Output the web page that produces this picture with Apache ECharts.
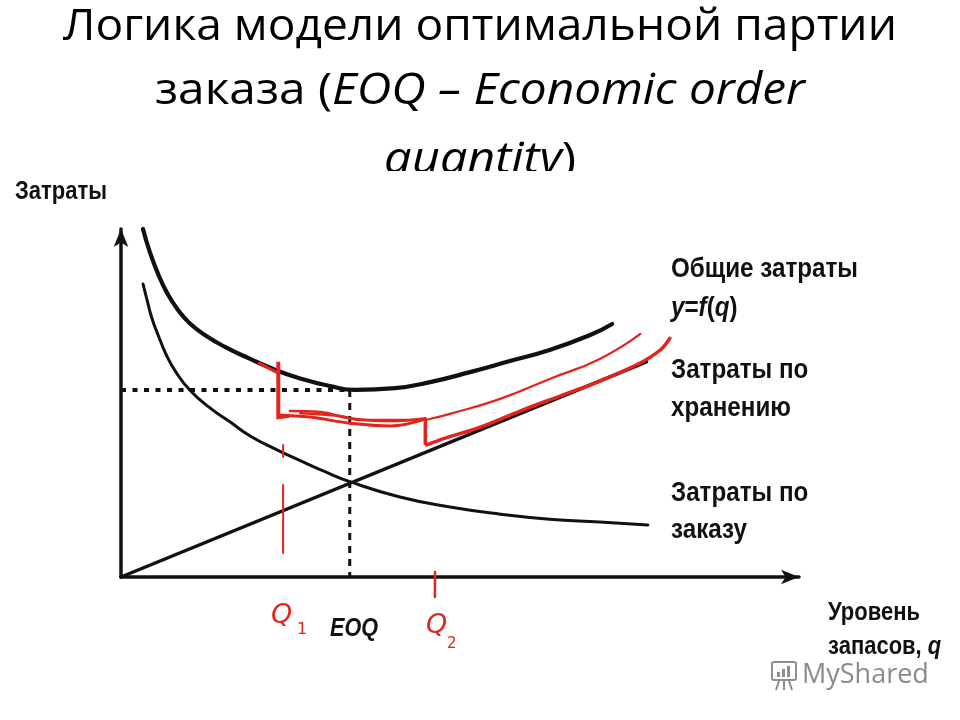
<!DOCTYPE html>
<html>
<head>
<meta charset="utf-8">
<script src="https://cdn.jsdelivr.net/npm/echarts@6/dist/echarts.min.js"></script>
<style>
html,body{margin:0;padding:0;background:#fff;}
#chart{width:960px;height:720px;}
</style>
</head>
<body>
<div id="chart"></div>
<script>
// ---- data (arbitrary cost / quantity units) ----
const totalCost = [[3.2,97.5],[4.2,91.0],[5.4,84.9],[6.7,79.6],[8.3,74.8],[10.0,71.1],[12.2,67.8],[15.2,64.4],[18.8,61.1],[22.4,58.1],[26.1,55.6],[30.4,53.5],[34.1,52.4],[39.9,52.9],[45.0,54.6],[50.8,57.4],[56.6,60.5],[62.4,63.6],[68.3,67.8],[71.5,70.9]];
const orderCost = [[3.2,82.1],[3.8,77.6],[4.5,72.5],[5.4,67.8],[6.6,62.2],[7.9,57.7],[10.0,52.4],[13.0,47.3],[15.9,43.4],[18.8,39.5],[22.4,35.9],[26.1,32.6],[29.7,29.5],[33.3,26.7],[40.6,22.4],[47.9,19.6],[55.2,17.6],[62.4,16.2],[69.7,15.4],[76.7,14.6]];
const holdingCost = [[0,0],[76.5,60.3]];
const eoqLevelLine = [[0,52.4],[33.3,52.4]];
const eoqDropLine = [[33.3,52.4],[33.3,0]];
// red hand-drawn annotations
const q1Touch = [[20.1,59.9],[22.9,57.1]];
const q1Upper = [[22.9,60.3],[22.9,44.8],[24.5,45.2]];
const scribbleA = [[22.9,45.4],[27.5,44.8],[33.3,43.1],[39.2,42.3],[44.3,44.3]];
const scribbleB = [[24.6,46.5],[29.0,46.2],[33.3,44.5],[39.2,43.7],[44.3,44.5]];
const scribbleC = [[26.1,45.9],[31.9,45.1],[34.8,44.0],[40.6,44.0],[44.3,44.0]];
const q2Drop = [[44.3,44.5],[44.3,37.0]];
const upperRed = [[44.3,44.0],[47.9,45.7],[55.2,49.9],[62.4,55.5],[69.7,61.1],[75.6,68.1]];
const lowerRed = [[44.5,37.0],[47.2,38.9],[52.3,42.0],[58.1,46.5],[63.9,50.7],[69.7,54.9],[75.5,59.9],[78.5,63.6],[79.9,66.9]];
const q1DashA = [[23.6,37.0],[23.6,33.6]];
const q1DashB = [[23.6,25.8],[23.6,6.7]];
const q2Tick = [[45.7,1.4],[45.7,-5.6]];

// ---- text ----
const titleLine1 = 'Логика модели оптимальной партии';
const titleLine2a = 'заказа (';
const titleLine2b = 'EOQ – Economic order';
const titleLine3a = 'quantity';
const titleLine3b = ')';
const yAxisName = 'Затраты';
const totalLabel = 'Общие затраты';
const holdLabel1 = 'Затраты по', holdLabel2 = 'хранению';
const orderLabel1 = 'Затраты по', orderLabel2 = 'заказу';
const xAxisName1 = 'Уровень';
const xAxisName2 = 'запасов, ';
const eoqLabel = 'EOQ';

const BLACK = '#111111';
const RED = '#e3231d';
const LBL = "'Liberation Sans',Arial,sans-serif";
const TTL = "'Open Sans',Lato,sans-serif";
const TFS = 43;

const mctx = document.createElement('canvas').getContext('2d');
function w(text, font) { mctx.font = font; return mctx.measureText(text).width; }

const tN = TFS + 'px ' + TTL, tI = 'italic ' + TFS + 'px ' + TTL;
const sx1 = 834 / w(titleLine1, tN);
const sx2 = 650 / (w(titleLine2a, tN) + w(titleLine2b, tI));
const sx3 = 192 / (w(titleLine3a, tI) + w(titleLine3b, tN));
const lN = 'bold 27px ' + LBL, lI = 'italic bold 27px ' + LBL;
const sxL = 187 / w(totalLabel, lN);
const sxY = 92 / w(yAxisName, 'bold 26px ' + LBL);
const sxE = 48 / w(eoqLabel, 'italic bold 25px ' + LBL);
const sxX = 92 / w(xAxisName1, 'bold 26px ' + LBL);

function line(data, color, width, extra) {
  return Object.assign({
    type: 'line', data: data, symbol: 'none', silent: true, clip: false,
    lineStyle: Object.assign({color: color, width: width, cap: 'round', join: 'round'}, (extra && extra.ls) || {})
  }, (extra && extra.s) || {});
}

function txt(x, y, text, font, fill, align, sx) {
  return {
    type: 'text', x: x, y: y, z: 100, scaleX: sx || 1,
    style: {text: text, font: font, fill: fill, align: align || 'left', textAlign: align || 'left',
            verticalAlign: 'middle', textVerticalAlign: 'middle'}
  };
}
function rich(x, y, text, richStyles, align, sx) {
  return {
    type: 'text', x: x, y: y, z: 100, scaleX: sx || 1,
    style: {text: text, rich: richStyles, align: align || 'left', textAlign: align || 'left',
            verticalAlign: 'middle', textVerticalAlign: 'middle'}
  };
}

const chart = echarts.init(document.getElementById('chart'), null, {renderer: 'canvas'});

const axisCommon = {
  type: 'value', min: 0,
  axisTick: {show: false}, axisLabel: {show: false}, splitLine: {show: false},
  axisLine: {show: true, onZero: false, symbol: ['none', 'arrow'], symbolSize: [11, 18],
             lineStyle: {color: BLACK, width: 3.5}}
};

const titleRich = {n: {font: tN, fill: '#000'}, i: {font: tI, fill: '#000'}};
const lblRich = {n: {font: lN, fill: BLACK}, i: {font: lI, fill: BLACK}};
const xRich = {n: {font: 'bold 26px ' + LBL, fill: BLACK}, i: {font: 'italic bold 26px ' + LBL, fill: BLACK}};

const option = {
  animation: false,
  backgroundColor: '#ffffff',
  grid: {left: 121, top: 229, width: 678, height: 348, containLabel: false},
  xAxis: Object.assign({}, axisCommon, {max: 98.7}),
  yAxis: Object.assign({}, axisCommon, {max: 97.5}),
  series: [
    line(totalCost, BLACK, 4.2, {s: {smooth: 0.5}}),
    line(orderCost, BLACK, 3, {s: {smooth: 0.5}}),
    line(holdingCost, BLACK, 3.5),
    line(eoqLevelLine, BLACK, 4, {ls: {type: [5, 6.5], cap: 'butt'}}),
    line(eoqDropLine, BLACK, 3, {ls: {type: [7, 6], cap: 'butt'}}),
    line(q1DashA, RED, 2),
    line(q1DashB, RED, 2),
    line(q2Tick, RED, 2.5),
    line(lowerRed, RED, 3.5, {s: {smooth: 0.4}}),
    line(upperRed, RED, 2.2, {s: {smooth: 0.5}}),
    line(scribbleA, RED, 3, {s: {smooth: 0.4}}),
    line(scribbleB, RED, 2.5, {s: {smooth: 0.4}}),
    line(scribbleC, RED, 2.5, {s: {smooth: 0.4}}),
    line(q1Touch, RED, 3),
    line(q1Upper, RED, 4, {ls: {join: 'miter', cap: 'butt'}}),
    line(q2Drop, RED, 3.5, {ls: {cap: 'butt'}})
  ],
  graphic: [
    // title
    txt(480, 27.5, titleLine1, tN, '#000', 'center', sx1),
    rich(480, 91.8, '{n|' + titleLine2a + '}{i|' + titleLine2b + '}', titleRich, 'center', sx2),
    rich(480, 161.2, '{i|' + titleLine3a + '}{n|' + titleLine3b + '}', titleRich, 'center', sx3),
    {type: 'rect', z: 101, shape: {x: 340, y: 171, width: 280, height: 14}, style: {fill: '#fff'}},
    // axis names and curve labels
    txt(15, 191.5, yAxisName, 'bold 26px ' + LBL, BLACK, 'left', sxY),
    txt(671, 269.6, totalLabel, lN, BLACK, 'left', sxL),
    rich(671, 308.6, '{i|y}{n|=}{i|f}{n|(}{i|q}{n|)}', lblRich, 'left', sxL),
    txt(671, 370.6, holdLabel1, lN, BLACK, 'left', sxL),
    txt(671, 408.6, holdLabel2, lN, BLACK, 'left', sxL),
    txt(671, 493.6, orderLabel1, lN, BLACK, 'left', sxL),
    txt(671, 530.6, orderLabel2, lN, BLACK, 'left', sxL),
    txt(330, 629.3, eoqLabel, 'italic bold 25px ' + LBL, BLACK, 'left', sxE),
    txt(828, 613, xAxisName1, 'bold 26px ' + LBL, BLACK, 'left', sxX),
    rich(828, 647, '{n|' + xAxisName2 + '}{i|q}', xRich, 'left', sxX),
    // red handwritten Q1 / Q2
    txt(271, 616, 'Q', 'italic 27px "DejaVu Sans",sans-serif', RED),
    txt(297, 630, '1', '16px "DejaVu Sans",sans-serif', RED),
    txt(426, 626, 'Q', 'italic 27px "DejaVu Sans",sans-serif', RED),
    txt(447, 644, '2', '15px "DejaVu Sans",sans-serif', RED),
    // watermark
    {type: 'group', z: 100, children: [
      {type: 'rect', shape: {x: 772, y: 662, width: 24, height: 18, r: 2}, style: {fill: 'none', stroke: '#8e8e8e', lineWidth: 2}},
      {type: 'rect', shape: {x: 777, y: 672, width: 3, height: 5}, style: {fill: '#8e8e8e'}},
      {type: 'rect', shape: {x: 782, y: 669, width: 3, height: 8}, style: {fill: '#8e8e8e'}},
      {type: 'rect', shape: {x: 787, y: 666, width: 3, height: 11}, style: {fill: '#8e8e8e'}},
      {type: 'line', shape: {x1: 779, y1: 681, x2: 776, y2: 690}, style: {stroke: '#8e8e8e', lineWidth: 2}},
      {type: 'line', shape: {x1: 789, y1: 681, x2: 792, y2: 690}, style: {stroke: '#8e8e8e', lineWidth: 2}},
      {type: 'line', shape: {x1: 784, y1: 681, x2: 784, y2: 690}, style: {stroke: '#8e8e8e', lineWidth: 2}}
    ]},
    txt(802, 675, 'MyShared', '27px ' + TTL, '#8a8a8a')
  ]
};
chart.setOption(option);
</script>
</body>
</html>
